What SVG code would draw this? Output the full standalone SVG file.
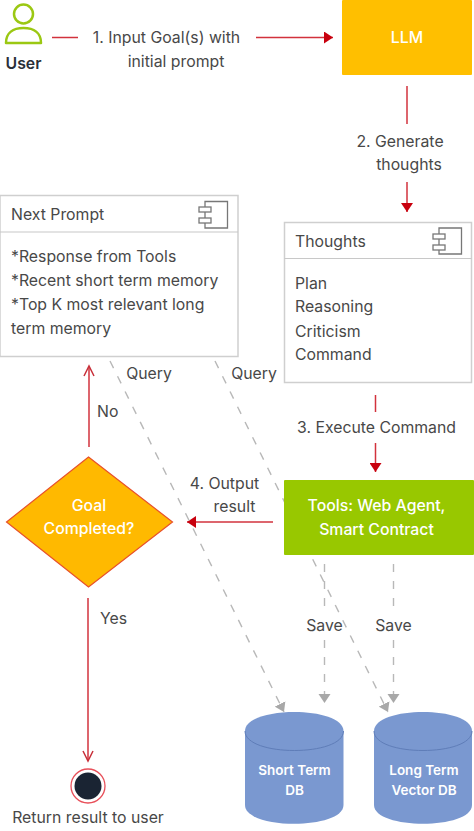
<svg xmlns="http://www.w3.org/2000/svg" width="474" height="831" viewBox="0 0 474 831">
<defs>
<marker id="rf" markerUnits="userSpaceOnUse" markerWidth="12" markerHeight="12" refX="9" refY="6" orient="auto"><path d="M0 0L9 6L0 12Z" fill="#c8000e"/></marker>
<marker id="ro" markerUnits="userSpaceOnUse" markerWidth="14" markerHeight="14" refX="10" refY="6" orient="auto"><path d="M1 1L11 6L1 11" fill="none" stroke="#c8303a" stroke-width="1.5"/></marker>
<marker id="gf" markerUnits="userSpaceOnUse" markerWidth="12" markerHeight="13" refX="9" refY="6.500" orient="auto"><path d="M0 0.500L9 6.500L0 12.500Z" fill="#a8a8a8"/></marker>
</defs>
<style>
text{font-family:Inter,"Liberation Sans",sans-serif;font-size:15.800px;fill:#484848}
.m{text-anchor:middle}
.w{fill:#fff;font-weight:500}
.db{fill:#fff;font-weight:600;font-size:13.500px}
.box{fill:#fff;stroke:#cfcfcf;stroke-width:1.5}
.div{stroke:#c8c8c8;stroke-width:1.200;fill:none}
.ic{fill:#fff;stroke:#777;stroke-width:1.3}
.r{fill:none;stroke:#d2323c;stroke-width:1.5}
.g{fill:none;stroke:#b8b8b8;stroke-width:1.400;stroke-dasharray:8 9}
.cyl{fill:#7a98d0}
</style>
<g id="connectors">
<path class="r" d="M52 37.500H78"/>
<path class="r" d="M256 37.500H333" marker-end="url(#rf)"/>
<path class="r" d="M407 86V124"/>
<path class="r" d="M407 182V212" marker-end="url(#rf)"/>
<path class="r" d="M375.500 395V412"/>
<path class="r" d="M375.500 443V472" marker-end="url(#rf)"/>
<path class="r" d="M273 522H187" marker-end="url(#rf)"/>
<path class="r" d="M89 447V367" marker-end="url(#ro)"/>
<path class="r" d="M88 598V760" marker-end="url(#ro)"/>
<path class="g" d="M110 361L284 712" marker-end="url(#gf)"/>
<path class="g" d="M215 361L388 712" marker-end="url(#gf)"/>
<path class="g" d="M324.500 564V612M324.500 640V703" marker-end="url(#gf)"/>
<path class="g" d="M393.500 564V612M393.500 640V703" marker-end="url(#gf)"/>
</g>
<g id="connector-labels">
<text x="166.500" y="43" class="m">1. Input Goal(s) with</text>
<text x="176" y="67" class="m">initial prompt</text>
<text x="400" y="147" class="m">2. Generate</text>
<text x="409" y="170" class="m">thoughts</text>
<text x="376.500" y="433" class="m">3. Execute Command</text>
<text x="224.500" y="489" class="m">4. Output</text>
<text x="234.500" y="512" class="m">result</text>
<text x="149" y="379" class="m">Query</text>
<text x="254" y="379" class="m">Query</text>
<text x="97" y="417">No</text>
<text x="100" y="624">Yes</text>
<text x="324.500" y="631" class="m">Save</text>
<text x="393.500" y="631" class="m">Save</text>
</g>
<g id="user">
<circle cx="23.500" cy="14" r="9.500" fill="#fff" stroke="#9bc813" stroke-width="2.500"/>
<path d="M6 43C6 33 13 28 23.500 28C34 28 41 33 41 43Z" fill="#fff" stroke="#9bc813" stroke-width="2.500" stroke-linejoin="round"/>
<text x="23.500" y="69" class="m" style="font-weight:600;fill:#2a2f38">User</text>
</g>
<g id="llm">
<rect x="342" y="0" width="130" height="75" rx="1" fill="#ffbf00"/>
<text x="407" y="43" class="m w">LLM</text>
</g>
<g id="next-prompt">
<rect class="box" x="0" y="195.500" width="238" height="161"/>
<path class="div" d="M0 232H238"/>
<path class="ic" d="M205 201.500H227.500V228H205Z"/>
<rect class="ic" x="199" y="207" width="12" height="5"/>
<rect class="ic" x="199" y="218" width="12" height="5"/>
<text x="11" y="220">Next Prompt</text>
<text x="11" y="262">*Response from Tools</text>
<text x="11" y="286">*Recent short term memory</text>
<text x="11" y="310">*Top K most relevant long</text>
<text x="11" y="334">term memory</text>
</g>
<g id="thoughts">
<rect class="box" x="284.500" y="222.500" width="187" height="160"/>
<path class="div" d="M284.500 258.500H471.500"/>
<path class="ic" d="M439 228H461.500V254H439Z"/>
<rect class="ic" x="433" y="234" width="12" height="5"/>
<rect class="ic" x="433" y="245" width="12" height="5"/>
<text x="295" y="247">Thoughts</text>
<text x="295" y="289">Plan</text>
<text x="295" y="312">Reasoning</text>
<text x="295" y="337">Criticism</text>
<text x="295" y="360">Command</text>
</g>
<g id="goal-completed">
<path d="M88.500 457L172.500 522L88.500 587L6.500 522Z" fill="#ffb900" stroke="#e8502a" stroke-width="1.200"/>
<text x="89" y="511" class="m w">Goal</text>
<text x="89" y="534" class="m w">Completed?</text>
</g>
<g id="tools">
<rect x="284" y="480" width="190" height="75" rx="1" fill="#98c800"/>
<text x="376.500" y="511" class="m w">Tools: Web Agent,</text>
<text x="376.500" y="535" class="m w">Smart Contract</text>
</g>
<g id="short-term-db">
<path class="cyl" d="M245 731C245 705.500 343.500 705.500 343.500 731V805C343.500 830 245 830 245 805Z"/>
<path d="M245 731C245 757 343.500 757 343.500 731" fill="none" stroke="#5f7db8" stroke-width="1"/>
<text x="294.500" y="775" class="m db">Short Term</text>
<text x="294.500" y="795" class="m db">DB</text>
</g>
<g id="long-term-db">
<path class="cyl" d="M374 731C374 705.500 472 705.500 472 731V805C472 830 374 830 374 805Z"/>
<path d="M374 731C374 757 472 757 472 731" fill="none" stroke="#5f7db8" stroke-width="1"/>
<text x="424" y="775" class="m db">Long Term</text>
<text x="424" y="795" class="m db">Vector DB</text>
</g>
<g id="return">
<circle cx="88" cy="786" r="17" fill="#fff" stroke="#e8505a" stroke-width="1.300"/>
<circle cx="88" cy="786" r="13.500" fill="#1a2433"/>
<text x="88" y="823" class="m">Return result to user</text>
</g>
</svg>
